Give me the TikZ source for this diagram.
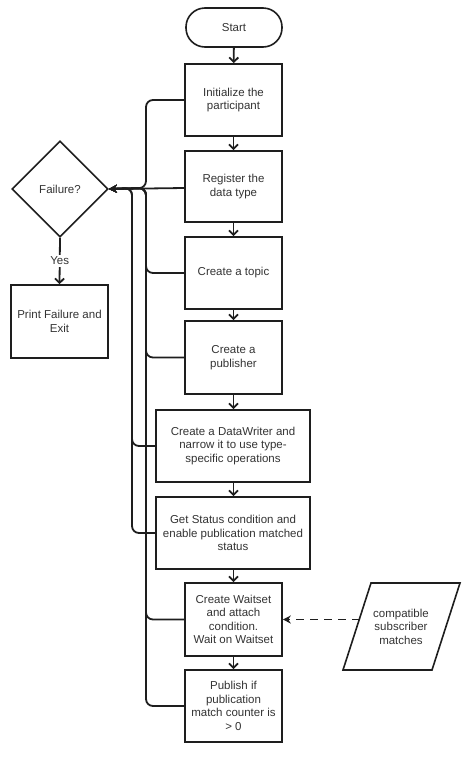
\documentclass[tikz,border=0pt]{standalone}
\usepackage{fontspec}
\setmainfont{Liberation Sans}
\usetikzlibrary{arrows.meta,shapes.geometric}
\definecolor{ln}{HTML}{1E1E1E}
\definecolor{tx}{HTML}{333333}
\tikzset{
  box/.style={draw=ln, line width=1.6pt, rectangle, align=center, text=tx, font=\fontsize{11.5}{13.5}\selectfont, inner sep=2pt},
  flow/.style={draw=ln, line width=1.8pt, -{Straight Barb[length=4.5pt,width=9pt,line width=1.8pt]}},
  bus/.style={draw=ln, line width=1.8pt, rounded corners=7pt, -{Stealth[length=8pt,width=8pt,inset=2.5pt]}},
  lbl/.style={text=tx, font=\fontsize{11.5}{13.5}\selectfont, align=center},
}
\begin{document}
\begin{tikzpicture}[x=1pt,y=-1pt]
\useasboundingbox (0,0) rectangle (474,758);
% nodes
\node[box, rounded corners=19pt, minimum width=96pt, minimum height=39pt] (start) at (234,27.5) {Start};
\node[box, minimum width=97pt, minimum height=72pt] (init) at (233.5,100) {Initialize the\\participant};
\node[box, minimum width=97pt, minimum height=71pt] (reg) at (233.5,186.5) {Register the\\data type};
\node[box, minimum width=97pt, minimum height=72pt] (topic) at (233.5,273) {Create a topic};
\node[box, minimum width=97pt, minimum height=73pt] (pub) at (233.5,357.5) {Create a\\publisher};
\node[box, minimum width=154pt, minimum height=72pt] (dw) at (233,446) {Create a DataWriter and\\narrow it to use type-\\specific operations};
\node[box, minimum width=154pt, minimum height=72pt] (gs) at (233,533) {Get Status condition and\\enable publication matched\\status};
\node[box, minimum width=97pt, minimum height=73pt] (ws) at (233.5,619.5) {Create Waitset\\and attach\\condition.\\Wait on Waitset};
\node[box, minimum width=97pt, minimum height=72pt] (publ) at (233.5,706) {Publish if\\publication\\match counter is\\> 0};
\node[box, diamond, minimum width=96pt, minimum height=96pt, inner sep=0pt] (fail) at (60,189) {Failure?};
\node[box, minimum width=97pt, minimum height=73pt] (print) at (59.5,321.5) {Print Failure and\\Exit};
% parallelogram
\draw[draw=ln, line width=1.6pt] (343,670) -- (371,583) -- (460,583) -- (432,670) -- cycle;
\node[lbl] (compat) at (401,626.5) {compatible\\subscriber\\matches};
\coordinate (cl) at (359.5,619.5);
% main flow
\draw[flow] (start) -- (init);
\draw[flow] (init) -- (reg);
\draw[flow] (reg) -- (topic);
\draw[flow] (topic) -- (pub);
\draw[flow] (pub.south) -- (pub.south |- dw.north);
\draw[flow] (dw.south -| pub.south) -- (gs.north -| pub.south);
\draw[flow] (gs.south -| ws.north) -- (ws.north);
\draw[flow] (ws) -- (publ);
% failure branch
\draw[flow] (fail.south) -- node[lbl, fill=white, inner sep=1.5pt] {Yes} (print.north);
% dashed
\draw[flow, dash pattern=on 8pt off 6pt, -{Stealth[length=8pt,width=8pt,inset=2.5pt]}] (cl) -- (ws.east);
% error buses
\draw[bus] (reg.west |- 0,188) -- (fail.east);
\draw[bus] (init.west) -- (146,100) -- (146,188) -- (fail.east);
\draw[bus] (topic.west) -- (146,273) -- (146,188) -- (fail.east);
\draw[bus] (pub.west) -- (146,357.5) -- (146,188) -- (fail.east);
\draw[bus] (ws.west) -- (146,619.5) -- (146,188) -- (fail.east);
\draw[bus] (publ.west) -- (146,706) -- (146,188) -- (fail.east);
\draw[bus] (dw.west) -- (132,446) -- (132,188) -- (fail.east);
\draw[bus] (gs.west) -- (132,533) -- (132,188) -- (fail.east);
\end{tikzpicture}
\end{document}
